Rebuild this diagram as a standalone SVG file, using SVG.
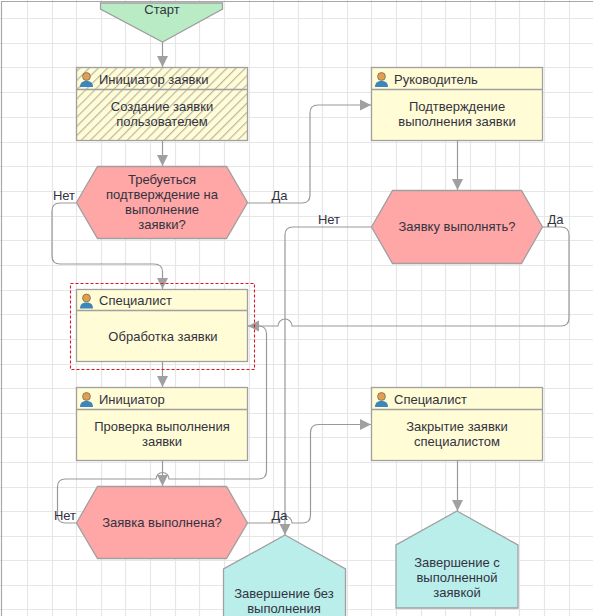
<svg xmlns="http://www.w3.org/2000/svg" xmlns:xlink="http://www.w3.org/1999/xlink" width="593" height="616" viewBox="0 0 593 616">
<style>
text{font-family:"Liberation Sans",Arial,sans-serif;font-size:13px;fill:#33333f;text-anchor:middle}
.h{text-anchor:start}
.n{fill:#fffcd6;stroke:#a0a0a0;stroke-width:1.3}
.d{fill:#ffa6a6;stroke:#a0a0a0;stroke-width:1.3}
.e{fill:#b9eeeb;stroke:#a0a0a0;stroke-width:1.3}
.s{fill:#b9ecc5;stroke:#a0a0a0;stroke-width:1.3}
.l{fill:none;stroke:#a0a0a0;stroke-width:1.3}
.c{fill:none;stroke:#999;stroke-width:1.2}
</style>
<defs>
<marker id="a" markerUnits="userSpaceOnUse" markerWidth="13" markerHeight="13" refX="11" refY="6" orient="auto"><path d="M0 .5L11 6L0 11.500Z" fill="#a0a0a0"/></marker>
<pattern id="hatch" patternUnits="userSpaceOnUse" width="6.500" height="6.500" patternTransform="rotate(45)"><rect width="6.500" height="6.500" fill="#fffcd6"/><rect width="1.200" height="6.500" x="0" fill="#b8b8a8"/></pattern>
<g id="p"><path d="M0 15.500C0 11 3 9.500 6.500 9.500S13 11 13 15.500Z" fill="#3a86bd"/><circle cx="6.500" cy="5" r="3.900" fill="#e0a050" stroke="#8a7a60"/></g>
</defs>
<rect width="593" height="616" fill="#fff"/>
<path fill="none" stroke="#e6e6e6" stroke-width="1.200" d="M27.500 0V616M52.500 0V616M76.500 0V616M101.500 0V616M125.500 0V616M150.500 0V616M175.500 0V616M199.500 0V616M224.500 0V616M249.500 0V616M273.500 0V616M298.500 0V616M322.500 0V616M347.500 0V616M371.500 0V616M396.500 0V616M421.500 0V616M445.500 0V616M470.500 0V616M495.500 0V616M519.500 0V616M544.500 0V616M569.500 0V616M0 18.500H593M0 43.500H593M0 67.500H593M0 92.500H593M0 117.500H593M0 142.500H593M0 166.500H593M0 191.500H593M0 216.500H593M0 240.500H593M0 265.500H593M0 290.500H593M0 314.500H593M0 339.500H593M0 364.500H593M0 388.500H593M0 413.500H593M0 437.500H593M0 462.500H593M0 487.500H593M0 511.500H593M0 536.500H593M0 560.500H593M0 585.500H593M0 609.500H593"/>
<path d="M1.500 616V1.500H593" fill="none" stroke="#a8a8a8" stroke-width="1.200"/>

<g id="connectors">
<path class="c" marker-end="url(#a)" d="M162.500 42V67"/>
<path class="c" marker-end="url(#a)" d="M162.500 140.500V166"/>
<path class="c" marker-end="url(#a)" d="M162.500 361.500V387"/>
<path class="c" marker-end="url(#a)" d="M162.500 460.500V486"/>
<path class="c" marker-end="url(#a)" d="M457.500 140.500V190"/>
<path class="c" marker-end="url(#a)" d="M457.500 460.500V511"/>
<path class="c" marker-end="url(#a)" d="M247.500 203H302Q310 203 310 195V113Q310 105 318 105H371"/>
<path class="c" marker-end="url(#a)" d="M76.500 203H60Q52 203 52 211V256Q52 264 60 264H154Q162.500 264 162.500 272V289"/>
<path class="c" marker-end="url(#a)" d="M371.500 227H293Q285 227 285 235V535"/>
<path class="c" marker-end="url(#a)" d="M542.500 227H561Q569 227 569 235V318Q569 326 561 326H292A7 7 0 0 0 278 326H248"/>
<path class="c" d="M76.500 523H65.500Q57.500 523 57.500 515V487Q57.500 479 65.500 479H156A6.500 6.500 0 0 1 169 479H258.500Q266.500 479 266.500 471V334Q266.500 326 258.500 326H248"/>
<path class="c" marker-end="url(#a)" d="M247.500 523H278A7 7 0 0 1 292 523H302.500Q310.500 523 310.500 515V432.500Q310.500 424.500 318.500 424.500H371"/>
</g>

<g id="start"><path class="s" d="M100.500 3V9L162.500 42L222.500 9V3Z"/><text x="162" y="14">Старт</text></g>

<g id="create">
<rect x="76.500" y="67.500" width="171" height="73" fill="url(#hatch)" stroke="#a0a0a0" stroke-width="1.300"/>
<path class="l" d="M76.500 89.500H247.500"/>
<use xlink:href="#p" href="#p" x="80" y="71.500"/>
<text class="h" x="99" y="84">Инициатор заявки</text>
<text x="162" y="111">Создание заявки</text><text x="162" y="126">пользователем</text>
</g>

<g id="decision1">
<path class="d" d="M76.500 202.500L97.500 166.500H226.500L247.500 202.500L226.500 238.500H97.500Z"/>
<text x="162" y="184">Требуеться</text><text x="162" y="199">подтверждение на</text><text x="162" y="214">выполнение</text><text x="162" y="229">заявки?</text>
</g>

<g id="manager">
<rect class="n" x="371.500" y="67.500" width="171" height="73"/>
<path class="l" d="M371.500 89.500H542.500"/>
<use xlink:href="#p" href="#p" x="375" y="71.500"/>
<text class="h" x="394" y="84">Руководитель</text>
<text x="457" y="111">Подтверждение</text><text x="457" y="126">выполнения заявки</text>
</g>

<g id="decision2">
<path class="d" d="M371.500 227L392.500 190.500H521.500L542.500 227L521.500 263.500H392.500Z"/>
<text x="457" y="231">Заявку выполнять?</text>
</g>

<g id="specialist1">
<rect x="70.500" y="283.500" width="184" height="86" fill="none" stroke="#e01020" stroke-width="1.100" stroke-dasharray="3 2"/>
<rect class="n" x="76.500" y="289.500" width="171" height="72"/>
<path class="l" d="M76.500 310.500H247.500"/>
<use xlink:href="#p" href="#p" x="80" y="293"/>
<text class="h" x="99" y="305">Специалист</text>
<text x="163" y="341">Обработка заявки</text>
</g>

<g id="initiator">
<rect class="n" x="76.500" y="387.500" width="171" height="73"/>
<path class="l" d="M76.500 409.500H247.500"/>
<use xlink:href="#p" href="#p" x="80" y="391.500"/>
<text class="h" x="99" y="404">Инициатор</text>
<text x="162" y="431">Проверка выполнения</text><text x="162" y="446">заявки</text>
</g>

<g id="decision3">
<path class="d" d="M76.500 523L97.500 486.500H226.500L247.500 523L226.500 558.500H97.500Z"/>
<text x="162" y="527">Заявка выполнена?</text>
</g>

<g id="specialist2">
<rect class="n" x="371.500" y="387.500" width="171" height="73"/>
<path class="l" d="M371.500 409.500H542.500"/>
<use xlink:href="#p" href="#p" x="375" y="391.500"/>
<text class="h" x="394" y="404">Специалист</text>
<text x="457" y="431">Закрытие заявки</text><text x="457" y="446">специалистом</text>
</g>

<g id="end1">
<path class="e" d="M285 535L345.500 569V620H223.500V569Z"/>
<text x="284" y="598">Завершение без</text><text x="284" y="613">выполнения</text>
</g>

<g id="end2">
<path class="e" d="M457 511L518 545V608H396V545Z"/>
<text x="457" y="567">Завершение с</text><text x="457" y="582">выполненной</text><text x="457" y="597">заявкой</text>
</g>

<g id="labels">
<text x="64" y="200">Нет</text><text x="279.500" y="200">Да</text>
<text x="329" y="224">Нет</text><text x="555.500" y="224">Да</text>
<text x="65" y="520">Нет</text><text x="279.500" y="520">Да</text>
</g>
</svg>
